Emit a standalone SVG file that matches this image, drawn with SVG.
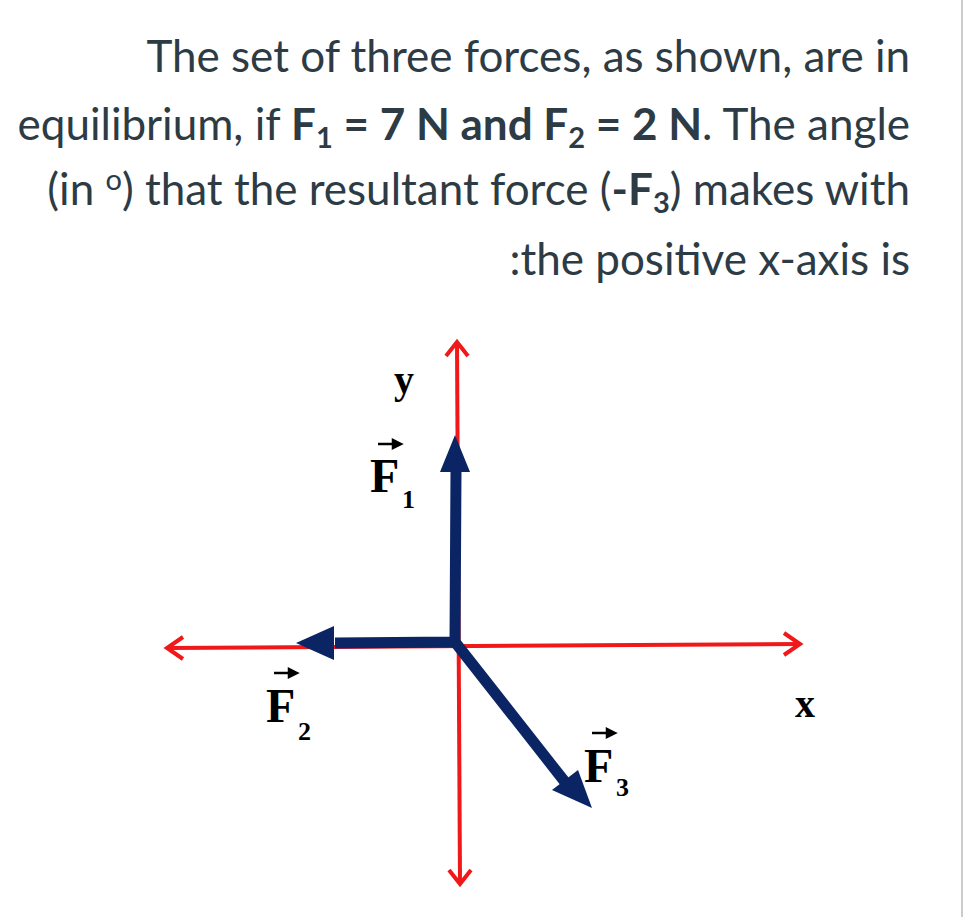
<svg xmlns="http://www.w3.org/2000/svg" width="967" height="917" viewBox="0 0 967 917">
<style>
.q{font-family:Lato,"Liberation Sans",sans-serif;font-size:44px;fill:#2d3b45;text-anchor:end}
.l{font-family:"Liberation Serif",serif;font-weight:bold;fill:#000}
.ax{stroke:#f01818;stroke-width:4;fill:none}
.f{stroke:#0b2464;stroke-width:11;fill:none}
.h{fill:#0b2464}
</style>
<rect width="967" height="917" fill="#fff"/>
<line x1="962" y1="0" x2="962" y2="917" stroke="#ccc" stroke-width="2"/>
<text class="q" x="910" y="72">The set of three forces, as shown, are in</text>
<text class="q" x="910" y="140">equilibrium, if <tspan font-weight="bold">F<tspan font-size="29" dy="8">1</tspan><tspan dy="-8"> = 7 N and F</tspan><tspan font-size="29" dy="8">2</tspan><tspan dy="-8"> = 2 N</tspan></tspan>. The angle</text>
<text class="q" x="910" y="205">(in <tspan font-size="29" dy="-15">o</tspan><tspan dy="15">) that the resultant force (</tspan><tspan font-weight="bold">-F<tspan font-size="29" dy="8">3</tspan></tspan><tspan dy="-8">) makes with</tspan></text>
<text class="q" x="910" y="275">:the positive x-axis is</text>
<g id="connectors">
<line class="ax" x1="457" y1="342" x2="460" y2="884"/>
<polyline class="ax" points="446,356 457,342 468,356"/>
<polyline class="ax" points="449,870 460,884 471,870"/>
<line class="ax" x1="167" y1="648" x2="800" y2="644"/>
<polyline class="ax" points="183,637 167,648 183,659"/>
<polyline class="ax" points="784,633 800,644 784,655"/>
<polyline class="f" points="456,470 455,642 335,643"/>
<line class="f" x1="455" y1="642" x2="565" y2="782"/>
<polygon class="h" points="455,435 440,472 470,472"/>
<polygon class="h" points="296,643 334,626 334,660"/>
<polygon class="h" points="592,808 552,790 578,770"/>
</g>
<g id="labels">
<text class="l" x="394" y="393" font-size="40">y</text>
<text class="l" x="370" y="492" font-size="48">F</text><text class="l" x="402" y="508" font-size="26">1</text>
<text class="l" x="266" y="722" font-size="48">F</text><text class="l" x="298" y="740" font-size="26">2</text>
<text class="l" x="584" y="782" font-size="48">F</text><text class="l" x="616" y="796" font-size="26">3</text>
<text class="l" x="795" y="717" font-size="40">x</text>
<g stroke="#000" stroke-width="2.5" fill="#000">
<line x1="378" y1="444" x2="396" y2="444"/><polygon points="401,444 393,440 393,448"/>
<line x1="274" y1="673" x2="292" y2="673"/><polygon points="297,673 289,669 289,677"/>
<line x1="592" y1="733" x2="610" y2="733"/><polygon points="615,733 607,729 607,737"/>
</g>
</g>
</svg>
